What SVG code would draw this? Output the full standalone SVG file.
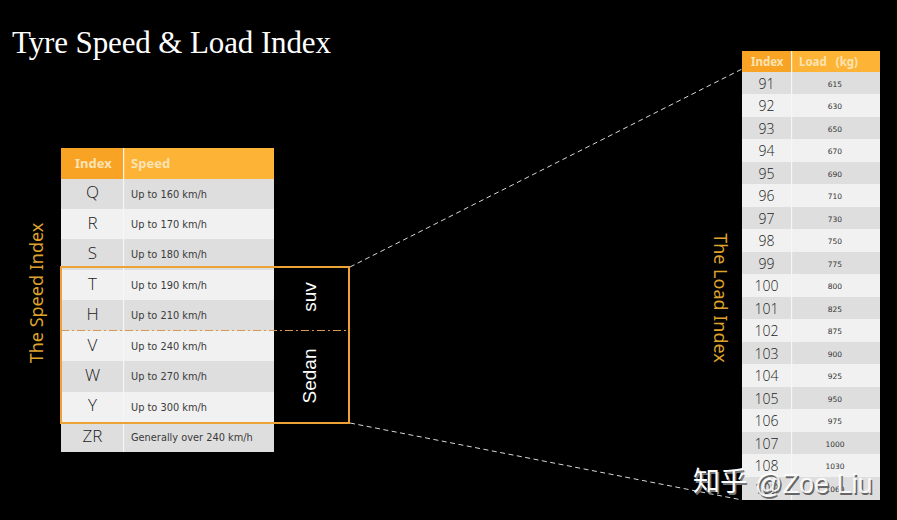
<svg xmlns="http://www.w3.org/2000/svg" width="897" height="520" viewBox="0 0 897 520">
<style>
text{font-family:"Noto Sans","Open Sans","DejaVu Sans",sans-serif}
.hd{fill:#fbe3b4;font-weight:700}
.s1{font-size:11.500px;font-weight:700}
.s2{font-size:13px;font-weight:700}
.k{fill:#1c1c1c;font-size:17px;text-anchor:middle;font-family:"Open Sans",sans-serif;font-weight:300}
.k2{fill:#1c1c1c;font-size:14px;text-anchor:middle;font-family:"Open Sans",sans-serif;font-weight:300}
.v{fill:#3a3a3a;font-size:9.800px;font-family:"DejaVu Sans",sans-serif}
.l{fill:#333;font-size:7.500px;text-anchor:middle;font-family:"DejaVu Sans",sans-serif}
.b{fill:#f1f1f1}.c{fill:#dedede}
.or{fill:none;stroke:#eda235;stroke-width:2}
.dash{fill:none;stroke:#d8d8d8;stroke-width:1;stroke-dasharray:5 3.500}
.side{fill:#dfa22c;font-size:18px;text-anchor:middle}
.wt{fill:#fff;font-size:19px;font-family:"Liberation Sans",Arial,sans-serif;text-anchor:middle}
</style>
<rect width="897" height="520" fill="#000"/>
<text x="12" y="52.500" textLength="319" lengthAdjust="spacing" style="font-family:'Liberation Serif',serif;font-size:31px;fill:#fff">Tyre Speed &amp; Load Index</text>

<g id="speed-table">
<rect x="61" y="148" width="62" height="31" fill="#f9a324"/>
<rect x="124" y="148" width="150" height="31" fill="#fdb436"/>
<rect x="61" y="179" width="213" height="30" class="c"/>
<rect x="61" y="209" width="213" height="30" class="b"/>
<rect x="61" y="239" width="213" height="31" class="c"/>
<rect x="61" y="270" width="213" height="30" class="b"/>
<rect x="61" y="300" width="213" height="31" class="c"/>
<rect x="61" y="331" width="213" height="30" class="b"/>
<rect x="61" y="361" width="213" height="31" class="c"/>
<rect x="61" y="392" width="213" height="30" class="b"/>
<rect x="61" y="422" width="213" height="30" class="c"/>
<rect x="123" y="148" width="1.200" height="304" fill="#f6f6f6"/>
<text x="75" y="168" class="hd s2">Index</text><text x="131" y="168" class="hd s2">Speed</text>
<text x="92.500" y="198" class="k">Q</text><text x="131" y="198" class="v">Up to 160 km/h</text>
<text x="92.500" y="229" class="k">R</text><text x="131" y="228" class="v">Up to 170 km/h</text>
<text x="92.500" y="259" class="k">S</text><text x="131" y="258" class="v">Up to 180 km/h</text>
<text x="92.500" y="290" class="k">T</text><text x="131" y="289" class="v">Up to 190 km/h</text>
<text x="92.500" y="320" class="k">H</text><text x="131" y="319" class="v">Up to 210 km/h</text>
<text x="92.500" y="351" class="k">V</text><text x="131" y="350" class="v">Up to 240 km/h</text>
<text x="92.500" y="381" class="k">W</text><text x="131" y="380" class="v">Up to 270 km/h</text>
<text x="92.500" y="411" class="k">Y</text><text x="131" y="411" class="v">Up to 300 km/h</text>
<text x="92.500" y="442" class="k">ZR</text><text x="131" y="441" class="v">Generally over 240 km/h</text>
</g>

<g id="speed-title"><text transform="translate(43 293) rotate(-90)" class="side">The Speed Index</text></g>

<g id="highlight">
<rect x="61" y="267" width="288" height="156" class="or"/>
<line x1="61" y1="330.500" x2="349" y2="330.500" stroke="#d89a48" stroke-width="1" stroke-dasharray="8 3 2 3"/>
</g>
<g id="suv"><text transform="translate(316 297) rotate(-90)" class="wt">suv</text></g>
<g id="sedan"><text transform="translate(316 376) rotate(-90)" class="wt">Sedan</text></g>

<g id="connectors">
<line x1="350" y1="267" x2="742" y2="69" class="dash"/>
<line x1="350" y1="423" x2="742" y2="500" class="dash"/>
</g>

<g id="load-table">
<rect x="742" y="51" width="49" height="21" fill="#f9a324"/>
<rect x="792" y="51" width="88" height="21" fill="#fdb436"/>
<rect x="742" y="72" width="138" height="428" class="b"/>
<rect x="742" y="72" width="138" height="22" class="c"/>
<rect x="742" y="117" width="138" height="22" class="c"/>
<rect x="742" y="162" width="138" height="22" class="c"/>
<rect x="742" y="207" width="138" height="22" class="c"/>
<rect x="742" y="252" width="138" height="22" class="c"/>
<rect x="742" y="297" width="138" height="22" class="c"/>
<rect x="742" y="342" width="138" height="22" class="c"/>
<rect x="742" y="387" width="138" height="22" class="c"/>
<rect x="742" y="432" width="138" height="22" class="c"/>
<rect x="742" y="477" width="138" height="23" class="c"/>
<rect x="791" y="51" width="1.200" height="449" fill="#f6f6f6"/>
<text x="751" y="66" class="hd s1">Index</text><text x="799" y="66" class="hd s1" xml:space="preserve">Load   (kg)</text>
<text x="766.500" y="89" class="k2">91</text><text x="835" y="87" class="l">615</text>
<text x="766.500" y="111" class="k2">92</text><text x="835" y="109" class="l">630</text>
<text x="766.500" y="134" class="k2">93</text><text x="835" y="132" class="l">650</text>
<text x="766.500" y="156" class="k2">94</text><text x="835" y="154" class="l">670</text>
<text x="766.500" y="179" class="k2">95</text><text x="835" y="177" class="l">690</text>
<text x="766.500" y="201" class="k2">96</text><text x="835" y="199" class="l">710</text>
<text x="766.500" y="224" class="k2">97</text><text x="835" y="222" class="l">730</text>
<text x="766.500" y="246" class="k2">98</text><text x="835" y="244" class="l">750</text>
<text x="766.500" y="269" class="k2">99</text><text x="835" y="267" class="l">775</text>
<text x="766.500" y="291" class="k2">100</text><text x="835" y="289" class="l">800</text>
<text x="766.500" y="314" class="k2">101</text><text x="835" y="312" class="l">825</text>
<text x="766.500" y="336" class="k2">102</text><text x="835" y="334" class="l">875</text>
<text x="766.500" y="359" class="k2">103</text><text x="835" y="357" class="l">900</text>
<text x="766.500" y="381" class="k2">104</text><text x="835" y="379" class="l">925</text>
<text x="766.500" y="404" class="k2">105</text><text x="835" y="402" class="l">950</text>
<text x="766.500" y="426" class="k2">106</text><text x="835" y="424" class="l">975</text>
<text x="766.500" y="449" class="k2">107</text><text x="835" y="447" class="l">1000</text>
<text x="766.500" y="471" class="k2">108</text><text x="835" y="469" class="l">1030</text>
<text x="766.500" y="494" class="k2">109</text><text x="835" y="492" class="l">1060</text>
</g>

<g id="load-title"><text transform="translate(714 298) rotate(90)" class="side">The Load Index</text></g>

<g id="watermark">
<text x="693" y="491" style="font-family:'Noto Sans CJK SC','Liberation Sans',sans-serif;font-size:27px;fill:#777" transform="translate(1.500 1.500)">知乎</text>
<text x="693" y="491" style="font-family:'Noto Sans CJK SC','Liberation Sans',sans-serif;font-size:27px;fill:#fff">知乎</text>
<text x="755" y="493" style="font-family:'Liberation Sans',sans-serif;font-size:27px;fill:#666" transform="translate(1.500 1.500)">@Zoe Liu</text>
<text x="755" y="493" style="font-family:'Liberation Sans',sans-serif;font-size:27px;fill:#fff;fill-opacity:.9">@Zoe Liu</text>
</g>
</svg>
